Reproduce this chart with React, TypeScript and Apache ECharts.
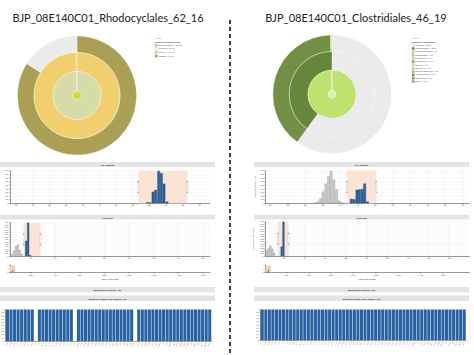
import React, { useEffect, useRef } from "react";
import * as echarts from "echarts";

const panelTitles = ["BJP_08E140C01_Rhodocyclales_62_16", "BJP_08E140C01_Clostridiales_46_19"];

// ---- Sunburst rings (percent of sequence length) ----
const leftCenterNames = ["Rhodocyclales"];
const leftCenterValues = [100];
const leftInnerNames = ["Rhodocyclaceae", "Zoogloeaceae"];
const leftInnerValues = [99.6, 0.4];
const leftMiddleNames = ["Dechloromonas", "Thauera"];
const leftMiddleValues = [99.6, 0.4];
const leftOuterNames = ["Dechloromonas agitata", "unknown"];
const leftOuterValues = [84, 16];

const rightCenterNames = ["Clostridiales"];
const rightCenterValues = [100];
const rightInnerNames = ["Ruminococcaceae", "Lachnospiraceae"];
const rightInnerValues = [99.7, 0.3];
const rightMiddleNames = ["unknown", "Ruminococcus"];
const rightMiddleValues = [60, 40];
const rightOuterNames = ["unknown", "Ruminococcus bromii", "Oscillibacter"];
const rightOuterValues = [60, 39.6, 0.4];

// ---- Legends ----
const leftLegendTitle = "Genus of Rhodocyclales";
const leftLegendNames = ["Dechloromonas (~99.6%)", "unknown (~0.4%)", "Thauera (~0.1%)", "Azospira (~0.1%)"];
const rightLegendTitle = "Genus of Clostridiales";
const rightLegendNames = [
  "unknown (~60%)", "Ruminococcus (~37%)", "Faecalibacterium (<1%)", "Oscillibacter (<1%)",
  "Clostridium (<1%)", "Eubacterium (<1%)", "Blautia (<1%)", "Roseburia (<1%)",
  "Ruminiclostridium (<1%)", "Anaerotruncus (<1%)", "Butyrivibrio (<1%)", "Dorea (<1%)",
];

// ---- GC content histograms (kbp per bin) ----
const gcTicks = [20, 25, 30, 35, 40, 45, 50, 55, 60, 65, 70, 75];
const gcLeftX = [59.4, 60.2, 61.1, 61.9, 62.8, 63.6, 64.4, 65.3];
const gcLeftY = [25, 18, 320, 370, 890, 830, 540, 45];
const gcLeftBand = [56.7, 71.4];
const gcRightX = [32.9, 33.6, 34.4, 35.1, 35.9, 36.7, 37.4, 38.2, 39.0, 39.7, 40.5, 43.2, 44.0, 44.8, 45.5, 46.3, 47.0, 47.8];
const gcRightY = [18, 45, 135, 320, 540, 740, 890, 650, 380, 70, 25, 120, 110, 370, 380, 390, 540, 45];
const gcRightBand = [41.9, 50.3];

// ---- Coverage histograms ----
const covLeftTicks = [20, 40, 60, 80, 100, 120, 140, 160];
const covLeftX = [4.8, 6.4, 8.0, 9.6, 11.2, 12.8, 16.4, 18.0, 19.6];
const covLeftY = [80, 220, 420, 480, 260, 90, 640, 1400, 40];
const covLeftBand = [14.4, 28.0];
const covRightTicks = [20, 40, 60, 80, 100, 120, 140, 160, 180];
const covRightX = [3.6, 5.4, 7.2, 9.0, 10.8, 18.0, 19.8];
const covRightY = [230, 330, 420, 300, 140, 380, 1400];
const covRightBand = [14.5, 24.8];

// ---- Total coverage overview ----
const ovTicks = [200, 400, 600, 800, 1000, 1200, 1400, 1600];
const ovLeftX = [55];
const ovLeftY = [1.5];
const ovLeftBand = [32, 70];
const ovRightX = [40];
const ovRightY = [1.5];
const ovRightBand = [12, 55];

// ---- Single copy genes ----
const headerTexts = ["GC Content", "Coverage", "Ribosomal Proteins / 30"];
const scgLeftHeader = "Bacterial Single Copy Genes / 55";
const scgRightHeader = "Bacterial Single Copy Genes / 58";
const scgGenes = [
  "rplA", "rplB", "rplC", "rplD", "rplE", "rplF", "rplI", "rplJ", "rplK", "rplL",
  "rplM", "rplN", "rplO", "rplP", "rplQ", "rplR", "rplS", "rplT", "rplU", "rplV",
  "rplW", "rplX", "rpmA", "rpmC", "rpmI", "rpsB", "rpsC", "rpsD", "rpsE", "rpsF",
  "rpsG", "rpsH", "rpsI", "rpsJ", "rpsK", "rpsL", "rpsM", "rpsO", "rpsP", "rpsQ",
  "rpsR", "rpsS", "rpsT", "dnaG", "frr", "infC", "nusA", "pgk", "pyrG", "rpoB",
  "rpoC", "smpB", "tsf", "secY", "ffh", "ychF", "gyrB", "recA",
];
const scgLeftCounts = [
  1, 1, 1, 1, 1, 1, 1, 1, 0, 1,
  1, 1, 1, 1, 1, 1, 1, 1, 1, 0,
  1, 1, 1, 1, 1, 1, 1, 1, 1, 1,
  1, 1, 1, 1, 1, 1, 0, 1, 1, 1,
  1, 1, 1, 1, 1, 1, 1, 1, 1, 1,
  1, 1, 1, 1, 1, 1, 1, 1,
];
const scgRightCounts = [
  1, 1, 1, 1, 1, 1, 1, 1, 1, 1,
  1, 1, 1, 1, 1, 1, 1, 1, 1, 1,
  1, 1, 1, 1, 1, 1, 1, 1, 1, 1,
  1, 1, 1, 1, 1, 1, 1, 1, 1, 1,
  1, 1, 1, 1, 1, 1, 1, 1, 1, 1,
  1, 1, 1, 1, 1, 1, 1, 1,
];

// ---- styles ----
const BLUE = "#2862a3";
const BLUE_EDGE = "#173c66";
const GRAY = "#c9c9c9";
const GRAY_EDGE = "#9a9a9a";
const BAND = "#fbe3d5";
const HEADER = "#e4e4e4";
const leftColors = {
  center: ["#d3de22"],
  inner: ["#d6dca7", "#d6dca7"],
  middle: ["#f1cf6e", "#f1cf6e"],
  outer: ["#a99f55", "#ebebeb"],
  legend: ["#f1cf6e", "#ffffff", "#d6dca7", "#a99f55"],
};
const rightColors = {
  center: ["#dcefb0"],
  inner: ["#bde36e", "#bde36e"],
  middle: ["#ebebeb", "#66873b"],
  outer: ["#ebebeb", "#728f45", "#cde99a"],
  legend: ["#ffffff", "#6f8e42", "#cfe8a6", "#b9dc7c", "#c9e49a", "#8fb356", "#d6edb0", "#c3e38b", "#a5c96a", "#6c8b40", "#84a552", "#96b862"],
};

const FONT = "Lato, 'Open Sans', sans-serif";

function pie(center: number[], radius: number[], names: string[], values: number[], colors: string[]) {
  return {
    type: "pie",
    center,
    radius,
    startAngle: 90,
    clockwise: true,
    silent: true,
    label: { show: false },
    labelLine: { show: false },
    emphasis: { disabled: true },
    itemStyle: { borderColor: "#f4f4ee", borderWidth: 0.4 },
    data: names.map((n, i) => ({ name: n, value: values[i], itemStyle: { color: colors[i] } })),
  };
}

const tinyLabel = { fontSize: 2.4, color: "#666", margin: 1.5, fontFamily: FONT };
const axisLine = { show: true, lineStyle: { color: "#555", width: 0.6 } };
const split = { show: true, lineStyle: { color: "#ececec", width: 0.4 } };

function valueX(idx: number, min: number, max: number, ticks: number[], extra: any = {}) {
  return {
    type: "value",
    gridIndex: idx,
    min,
    max,
    splitNumber: ticks.length,
    axisLine,
    axisTick: { show: true, length: 1.5, customValues: ticks, lineStyle: { color: "#555", width: 0.4 } },
    axisLabel: { ...tinyLabel, customValues: ticks },
    splitLine: split,
    ...extra,
  };
}
function valueY(idx: number, max: number, interval: number, extra: any = {}) {
  return {
    type: "value",
    gridIndex: idx,
    min: 0,
    max,
    interval,
    axisLine,
    axisTick: { show: true, length: 1, lineStyle: { color: "#555", width: 0.4 } },
    axisLabel: { ...tinyLabel, fontSize: 2 },
    splitLine: split,
    ...extra,
  };
}

function histSeries(idx: number, xs: number[], ys: number[], band: number[], yMid: number, barWidth: number, handleH: number) {
  const inBand = (x: number) => x >= band[0] && x <= band[1];
  return [
    {
      type: "bar",
      xAxisIndex: idx,
      yAxisIndex: idx,
      barWidth,
      silent: true,
      data: xs.map((x, i) => ({
        value: [x, ys[i]],
        itemStyle: { color: inBand(x) ? BLUE : GRAY, borderColor: inBand(x) ? BLUE_EDGE : GRAY_EDGE, borderWidth: 0.35 },
      })),
      markArea: {
        silent: true,
        itemStyle: { color: BAND },
        data: [[{ xAxis: band[0] }, { xAxis: band[1] }]],
      },
    },
    {
      type: "scatter",
      xAxisIndex: idx,
      yAxisIndex: idx,
      silent: true,
      symbol: "roundRect",
      symbolSize: [1.6, handleH],
      itemStyle: { color: "#f4f4f4", borderColor: "#8a8a8a", borderWidth: 0.5 },
      z: 5,
      data: band.map((b) => [b, yMid]),
    },
  ];
}

function ovSeries(idx: number, xs: number[], ys: number[], band: number[]) {
  return {
    type: "bar",
    xAxisIndex: idx,
    yAxisIndex: idx,
    barWidth: 1,
    silent: true,
    itemStyle: { color: "#d9534f" },
    data: xs.map((x, i) => [x, ys[i]]),
    markArea: {
      silent: true,
      itemStyle: { color: "#f8d6c0", borderColor: "#e8894f", borderWidth: 0.3 },
      data: [[{ xAxis: band[0], yAxis: 0.5 }, { xAxis: band[1], yAxis: 3.5 }]],
    },
  };
}

function scgX(idx: number, counts: number[]) {
  return {
    type: "category",
    gridIndex: idx,
    data: scgGenes,
    axisLine,
    axisTick: { show: false },
    axisLabel: {
      fontSize: 2.2,
      fontFamily: FONT,
      rotate: 60,
      interval: 0,
      margin: 1.5,
      color: (_v: string, i: number) => (counts[i] === 0 ? "#e0782f" : "#777"),
    },
  };
}

function buildOption() {
  const headers: any[] = [];
  const panels = [
    { x: 0, w: 215, scg: scgLeftHeader },
    { x: 254, w: 215, scg: scgRightHeader },
  ];
  const headerRows = [
    { y: 162, h: 5, text: headerTexts[0] },
    { y: 214.8, h: 4.6, text: headerTexts[1] },
    { y: 287, h: 5.2, text: headerTexts[2] },
  ];
  panels.forEach((p) => {
    [...headerRows, { y: 295.4, h: 5.6, text: p.scg }].forEach((r) => {
      headers.push({
        type: "rect",
        shape: { x: p.x, y: r.y, width: p.w, height: r.h },
        style: { fill: HEADER },
        silent: true,
      });
      headers.push({
        type: "text",
        x: p.x + p.w / 2,
        y: r.y + r.h / 2,
        style: { text: r.text, fill: "#333", font: `bold 2.6px ${FONT}`, align: "center", verticalAlign: "middle" },
        silent: true,
      });
    });
  });

  const legend = (x: number, y: number, title: string, names: string[], colors: string[], step: number) => {
    const els: any[] = [
      { type: "text", x, y: y - 3.2, style: { text: "Legend", fill: "#aaa", font: `2.2px ${FONT}` }, silent: true },
      { type: "text", x, y, style: { text: title, fill: "#333", font: `bold 2.4px ${FONT}` }, silent: true },
    ];
    names.forEach((n, i) => {
      const yy = y + 3 + i * step;
      els.push({
        type: "rect",
        shape: { x, y: yy, width: 2.4, height: 2.4 },
        style: { fill: colors[i], stroke: "#888", lineWidth: 0.2 },
        silent: true,
      });
      els.push({
        type: "text",
        x: x + 3.2,
        y: yy + 0.1,
        style: { text: n, fill: "#555", font: `2.2px ${FONT}` },
        silent: true,
      });
    });
    return els;
  };

  const graphic = [
    {
      type: "text",
      x: 108,
      y: 17,
      style: { text: panelTitles[0], fill: "#222", font: `11px ${FONT}`, align: "center", verticalAlign: "middle" },
    },
    {
      type: "text",
      x: 356,
      y: 17,
      style: { text: panelTitles[1], fill: "#222", font: `11px ${FONT}`, align: "center", verticalAlign: "middle" },
    },
    {
      type: "line",
      shape: { x1: 230, y1: 20, x2: 230, y2: 355 },
      style: { stroke: "#111", lineWidth: 1.6, lineDash: [4, 3] },
      silent: true,
    },
    ...headers,
    ...legend(155, 41, leftLegendTitle, leftLegendNames, leftColors.legend, 3.6),
    ...legend(412, 41, rightLegendTitle, rightLegendNames, rightColors.legend, 3.3),
  ];

  const grid = [
    { left: 10, top: 170.7, width: 200, height: 32.6 },
    { left: 10, top: 222.7, width: 200, height: 33.3 },
    { left: 10, top: 265, width: 200, height: 7.5 },
    { left: 5.7, top: 309.5, width: 205.8, height: 31.5 },
    { left: 265.3, top: 170.5, width: 204, height: 32.8 },
    { left: 265.3, top: 221.7, width: 204, height: 34.3 },
    { left: 265.3, top: 265, width: 204, height: 7.5 },
    { left: 260.5, top: 309.5, width: 205.5, height: 30.5 },
  ].map((g) => ({ ...g, outerBoundsMode: "none", containLabel: false }));

  const yName = (name: string) => ({
    name,
    nameLocation: "middle",
    nameGap: 8,
    nameTextStyle: { fontSize: 2.2, color: "#555", fontFamily: FONT },
  });

  const xAxis = [
    valueX(0, 18.2, 78.2, gcTicks),
    valueX(1, 3.2, 166, covLeftTicks),
    valueX(2, 32, 1660, ovTicks, {
      splitLine: { show: false },
      name: "Total Coverage",
      nameLocation: "middle",
      nameGap: 4.5,
      nameTextStyle: { fontSize: 2.6, color: "#444", fontFamily: FONT },
    }),
    scgX(3, scgLeftCounts),
    valueX(4, 18.6, 76.9, gcTicks),
    valueX(5, 2.2, 199.6, covRightTicks),
    valueX(6, 12, 1840, ovTicks, {
      splitLine: { show: false },
      name: "Total Coverage",
      nameLocation: "middle",
      nameGap: 4.5,
      nameTextStyle: { fontSize: 2.6, color: "#444", fontFamily: FONT },
    }),
    scgX(7, scgRightCounts),
  ];
  const yAxis = [
    valueY(0, 900, 100),
    valueY(1, 1400, 100),
    valueY(2, 4, 2, { splitLine: { show: false } }),
    valueY(3, 1, 0.1, { splitLine: { show: false } }),
    valueY(4, 900, 100, yName("Sequence length (kbp)")),
    valueY(5, 1400, 100, yName("Sequence length (kbp)")),
    valueY(6, 4, 2, { splitLine: { show: false } }),
    valueY(7, 1, 0.1, { splitLine: { show: false } }),
  ];

  const series: any[] = [
    pie([77, 95.5], [43, 59.5], leftOuterNames, leftOuterValues, leftColors.outer),
    pie([77, 95.5], [24, 43], leftMiddleNames, leftMiddleValues, leftColors.middle),
    pie([77, 95.5], [4, 24], leftInnerNames, leftInnerValues, leftColors.inner),
    pie([77, 95.5], [0, 4], leftCenterNames, leftCenterValues, leftColors.center),
    pie([332, 94.2], [42.7, 59.2], rightOuterNames, rightOuterValues, rightColors.outer),
    pie([332, 94.2], [24, 42.7], rightMiddleNames, rightMiddleValues, rightColors.middle),
    pie([332, 94.2], [4, 24], rightInnerNames, rightInnerValues, rightColors.inner),
    pie([332, 94.2], [0, 4], rightCenterNames, rightCenterValues, rightColors.center),
    ...histSeries(0, gcLeftX, gcLeftY, gcLeftBand, 450, 2.6, 11),
    ...histSeries(1, covLeftX, covLeftY, covLeftBand, 700, 2.0, 11),
    ovSeries(2, ovLeftX, ovLeftY, ovLeftBand),
    {
      type: "bar",
      xAxisIndex: 3,
      yAxisIndex: 3,
      silent: true,
      barCategoryGap: "14%",
      itemStyle: { color: BLUE },
      data: scgLeftCounts,
    },
    ...histSeries(4, gcRightX, gcRightY, gcRightBand, 450, 2.6, 11),
    ...histSeries(5, covRightX, covRightY, covRightBand, 700, 1.9, 11),
    ovSeries(6, ovRightX, ovRightY, ovRightBand),
    {
      type: "bar",
      xAxisIndex: 7,
      yAxisIndex: 7,
      silent: true,
      barCategoryGap: "14%",
      itemStyle: { color: BLUE },
      data: scgRightCounts,
    },
  ];

  return {
    animation: false,
    backgroundColor: "#ffffff",
    textStyle: { fontFamily: FONT },
    grid,
    xAxis,
    yAxis,
    series,
    graphic,
  };
}

export default function App() {
  const ref = useRef<HTMLDivElement>(null);
  useEffect(() => {
    document.body.style.margin = "0";
    const chart = echarts.init(ref.current as HTMLDivElement, null, { renderer: "svg" });
    chart.setOption(buildOption() as any);
    return () => chart.dispose();
  }, []);
  return (
    <div
      ref={ref}
      style={{ position: "fixed", left: 0, top: 0, width: 474, height: 355, background: "#fff" }}
    />
  );
}
